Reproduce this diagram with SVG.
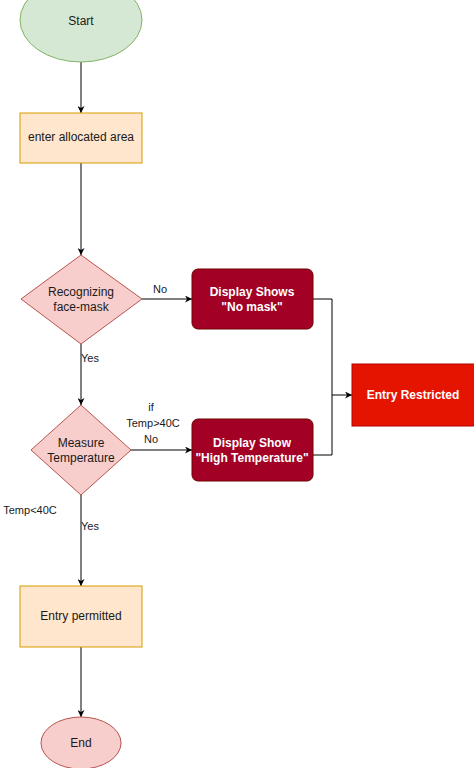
<svg xmlns="http://www.w3.org/2000/svg" width="474" height="768" viewBox="0 0 474 768">
<style>
text{font-family:"Liberation Sans",Arial,sans-serif;font-size:12px;fill:#1a1a1a;text-anchor:middle;dominant-baseline:central}
.w{fill:#fff;font-weight:bold}
.lbl{font-size:11px}
.term-g{fill:#d5e8d4;stroke:#82b366}
.proc{fill:#ffe6cc;stroke:#d79b00}
.dec{fill:#f8cecc;stroke:#b85450}
.dark{fill:#a20025;stroke:#6f0000}
.red{fill:#e51400;stroke:#b20000}
.c{fill:none;stroke:#000;stroke-width:1}
</style>
<defs>
<marker id="ah" viewBox="0 0 10 10" refX="10" refY="5" markerWidth="7" markerHeight="7" orient="auto" markerUnits="userSpaceOnUse">
<path d="M0,0 L10,5 L0,10 L3,5 Z" fill="#000"/>
</marker>
</defs>
<rect width="474" height="768" fill="#fff"/>
<g id="connectors">
<path class="c" d="M81,62 V113" marker-end="url(#ah)"/>
<path class="c" d="M81,163 V255" marker-end="url(#ah)"/>
<path class="c" d="M142,299 H192" marker-end="url(#ah)"/>
<path class="c" d="M81,344 V405" marker-end="url(#ah)"/>
<path class="c" d="M131,450 H192" marker-end="url(#ah)"/>
<path class="c" d="M81,495 V586" marker-end="url(#ah)"/>
<path class="c" d="M81,647 V717" marker-end="url(#ah)"/>
<path class="c" d="M313,299 H332 V455 H313"/>
<path class="c" d="M332,395 H352" marker-end="url(#ah)"/>
<text class="lbl" x="160" y="289">No</text>
<text class="lbl" x="90" y="358">Yes</text>
<text class="lbl" x="151" y="407">if</text>
<text class="lbl" x="153" y="423">Temp&gt;40C</text>
<text class="lbl" x="151" y="439">No</text>
<text class="lbl" x="30" y="510">Temp&lt;40C</text>
<text class="lbl" x="90" y="526">Yes</text>
</g>
<g id="start"><ellipse class="term-g" cx="81" cy="20" rx="61" ry="42"/><text x="81" y="21">Start</text></g>
<g id="enter"><rect class="proc" x="20" y="113" width="122" height="50"/><text x="81" y="137">enter allocated area</text></g>
<g id="mask"><path class="dec" d="M81,255 L142,299 L81,344 L21,299 Z"/><text x="81" y="292">Recognizing</text><text x="81" y="307">face-mask</text></g>
<g id="nomask"><rect class="dark" x="192" y="269" width="121" height="60" rx="6"/><text class="w" x="252" y="292">Display Shows</text><text class="w" x="252" y="307">"No mask"</text></g>
<g id="temp"><path class="dec" d="M81,405 L131,450 L81,495 L31,450 Z"/><text x="81" y="443">Measure</text><text x="81" y="458">Temperature</text></g>
<g id="hightemp"><rect class="dark" x="192" y="419" width="121" height="62" rx="6"/><text class="w" x="252" y="443">Display Show</text><text class="w" x="252" y="458">"High Temperature"</text></g>
<g id="restricted"><rect class="red" x="352" y="364" width="124" height="62"/><text class="w" x="413" y="395">Entry Restricted</text></g>
<g id="permitted"><rect class="proc" x="20" y="586" width="122" height="61"/><text x="81" y="616">Entry permitted</text></g>
<g id="end"><ellipse class="dec" cx="81" cy="743" rx="40" ry="26"/><text x="81" y="743">End</text></g>
</svg>
